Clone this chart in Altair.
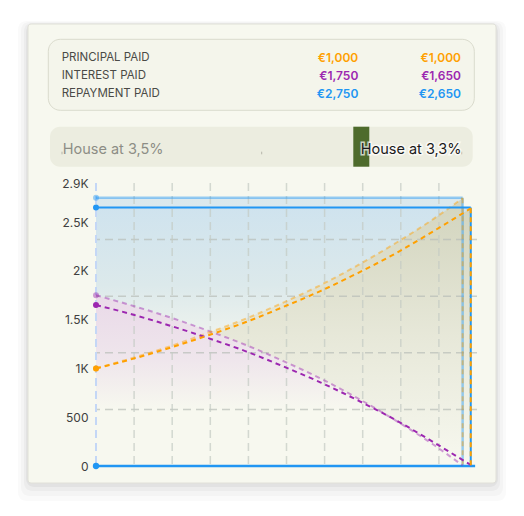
import altair as alt
import pandas as pd

# ---------------- data ----------------
table_labels = ["PRINCIPAL PAID", "INTEREST PAID", "REPAYMENT PAID"]
table_values_a = ["€1,000", "€1,750", "€2,750"]
table_values_b = ["€1,000", "€1,650", "€2,650"]
scenario_names = ["House at 3,5%", "House at 3,3%"]

years = [0, 3, 6, 9, 12, 15, 18, 21, 24, 27]
end_a = 29.35
end_b = 30.0
repayment_a = 2750
repayment_b = 2650
principal_a = [1000, 1110, 1230, 1365, 1510, 1675, 1855, 2060, 2285, 2530, 2745]
interest_a = [1750, 1640, 1520, 1385, 1240, 1075, 895, 690, 465, 220, 5]
principal_b = [1000, 1100, 1215, 1340, 1475, 1630, 1795, 1980, 2180, 2405, 2640]
interest_b = [1650, 1550, 1435, 1310, 1175, 1020, 855, 670, 470, 245, 10]

y_tick_values = [0, 500, 1000, 1500, 2000, 2500, 2900]
y_grid_values = [580, 1160, 1740, 2320]
x_grid_values = [3.05, 6.1, 9.15, 12.2, 15.25, 18.3, 21.35, 24.4, 27.45]
x_max = 30.5
y_max = 2900
zero_line_end = 30.35

BLUE = "#2196f3"
PURPLE = "#9c27b0"
ORANGE = "#ffa000"
BG = "#f7f8ef"
FONT = "Inter"

# ---------------- tables ----------------
rows = []
for scen, end, rep, pr, it in [("A", end_a, repayment_a, principal_a, interest_a),
                               ("B", end_b, repayment_b, principal_b, interest_b)]:
    for t, p, i in zip(years + [end], pr, it):
        rows.append(dict(scenario=scen, t=t, principal=p, interest=i, repayment=rep))
df = pd.DataFrame(rows)
ends = df.groupby("scenario").tail(1).reset_index(drop=True)
starts = df[df["t"] == 0].reset_index(drop=True)

table_df = pd.DataFrame({"row": [0, 1, 2], "label": table_labels, "a": table_values_a,
                         "b": table_values_b, "color": [ORANGE, PURPLE, BLUE]})
slider_df = pd.DataFrame({"idx": [0, 1], "name": scenario_names})

xscale = alt.Scale(domain=[0, x_max], nice=False, zero=False)
yscale = alt.Scale(domain=[0, y_max], nice=False)
yaxis = alt.Axis(values=y_tick_values, title=None, domain=False, ticks=False, grid=False, zindex=2,
                 labelExpr="datum.value >= 1000 ? format(datum.value / 1000, '.2~f') + 'K' : datum.label",
                 labelFont=FONT, labelFontSize=12, labelColor="#404040", labelPadding=8)


def X(f):
    return alt.X(f, type="quantitative", scale=xscale, axis=None)


def Y(f):
    return alt.Y(f, type="quantitative", scale=yscale, axis=yaxis)


def grad(stops):
    return alt.Gradient(gradient="linear", x1=1, x2=1, y1=0, y2=1,
                        stops=[alt.GradientStop(color=c, offset=o) for o, c in stops])


one = alt.Chart(pd.DataFrame({"k": [0]}))


def box(x1, x2, y1, y2, **kw):
    return one.mark_rect(**kw).encode(x=alt.value(x1), x2=alt.value(x2), y=alt.value(y1), y2=alt.value(y2))


layers = []
# card shadow + card
for px, pt, pb, op in [(10, 3, 18, 0.02), (7, 2, 13, 0.025), (4, 1, 8, 0.03), (2, 0, 4, 0.04)]:
    layers.append(box(-68 - px, 400 + px, -159 - pt, 300 + pb, color="#000000", opacity=op, cornerRadius=8))
layers.append(box(-68, 400, -159, 300, color=BG, stroke="#e0e0d8", strokeWidth=1, cornerRadius=3))

# summary table
layers.append(box(-47.7, 378.3, -143.7, -72.7, color="#f4f5eb", stroke="#dadbcd", strokeWidth=1, cornerRadius=12))
row_y = [-124.8, -106.8, -88.6]
tbase = alt.Chart(table_df)
for i, yy in enumerate(row_y):
    tb = tbase.transform_filter(alt.datum.row == i)
    layers.append(tb.mark_text(align="left", baseline="middle", font=FONT, fontSize=11.5, color="#4a4a46")
                  .encode(x=alt.value(-34.3), y=alt.value(yy), text="label:N"))
    layers.append(tb.mark_text(align="right", baseline="middle", font=FONT, fontSize=12, fontWeight=600)
                  .encode(x=alt.value(262.3), y=alt.value(yy), text="a:N", color=alt.Color("color:N", scale=None)))
    layers.append(tb.mark_text(align="right", baseline="middle", font=FONT, fontSize=12, fontWeight=600)
                  .encode(x=alt.value(365), y=alt.value(yy), text="b:N", color=alt.Color("color:N", scale=None)))

# scenario slider
layers.append(box(-46, 376.7, -56.3, -16.3, color="#ecede0", cornerRadius=10))
for tx in [-34, 165.7, 365.7]:
    layers.append(one.mark_rule(color="#b5b5aa", strokeWidth=1)
                  .encode(x=alt.value(tx), y=alt.value(-31.3), y2=alt.value(-28.7)))
layers.append(box(257.3, 273.3, -56.3, -16.3, color="#4e6b2c"))
sbase = alt.Chart(slider_df)
layers.append(sbase.transform_filter(alt.datum.idx == 0)
              .mark_text(align="left", baseline="alphabetic", font=FONT, fontSize=14.5, color="#8d8d86")
              .encode(x=alt.value(-33.3), y=alt.value(-29.2), text="name:N"))
layers.append(sbase.transform_filter(alt.datum.idx == 1)
              .mark_text(align="left", baseline="alphabetic", font=FONT, fontSize=14.5, color="#ffffff",
                         stroke="#ffffff", strokeWidth=3, opacity=0.7)
              .encode(x=alt.value(264.7), y=alt.value(-29.2), text="name:N"))
layers.append(sbase.transform_filter(alt.datum.idx == 1)
              .mark_text(align="left", baseline="alphabetic", font=FONT, fontSize=14.5, color="#1b1b1b")
              .encode(x=alt.value(264.7), y=alt.value(-29.2), text="name:N"))

base = alt.Chart(df)
A = base.transform_filter(alt.datum.scenario == "A")
B = base.transform_filter(alt.datum.scenario == "B")

# gradient areas (opaque, fading into the card colour)
blue_a = grad([(0, "#dae8ed"), (0.3, "#e2ecec"), (0.6, BG)])
blue_b = grad([(0, "#cfe3ee"), (0.3, "#dce9eb"), (0.6, BG)])
olive = grad([(0, "#d3d5bf"), (0.5, "#e7e8d9"), (1, BG)])
purple = grad([(0, "#eadbe9"), (0.35, "#efe6ec"), (0.65, BG)])

layers.append(A.mark_area(interpolate="monotone", opacity=1, color=blue_a).encode(x=X("t"), y=Y("repayment")))
layers.append(B.mark_area(interpolate="monotone", opacity=1, color=blue_b).encode(x=X("t"), y=Y("repayment")))
for sub in (A, B):
    layers.append(sub.mark_area(interpolate="monotone", opacity=1, color=olive).encode(x=X("t"), y=Y("principal")))
for sub in (A, B):
    layers.append(sub.mark_area(interpolate="monotone", opacity=1, color=purple).encode(x=X("t"), y=Y("interest")))

# grid (on top of fills)
layers.append(alt.Chart(pd.DataFrame({"g": y_grid_values}))
              .mark_rule(color="#b8beb8", strokeDash=[8, 5], strokeWidth=1.5, opacity=0.7).encode(y=Y("g")))
layers.append(alt.Chart(pd.DataFrame({"g": x_grid_values}))
              .mark_rule(color="#c3cac3", strokeDash=[8, 5], strokeWidth=1.5, opacity=0.7).encode(x=X("g")))
layers.append(alt.Chart(pd.DataFrame({"g": [0]}))
              .mark_rule(color="#c4d7f6", strokeDash=[8, 5], strokeWidth=2).encode(x=X("g")))

# zero line
zero_df = pd.DataFrame({"t0": [0], "t1": [zero_line_end], "v": [0]})
layers.append(alt.Chart(zero_df).mark_rule(color=BLUE, strokeWidth=2.5).encode(x=X("t0"), x2="t1", y=Y("v")))

# lines
for sub, scen, op, w in [(A, "A", 0.45, 2.5), (B, "B", 1.0, 2)]:
    e = alt.Chart(ends).transform_filter(alt.datum.scenario == scen)
    s = alt.Chart(starts).transform_filter(alt.datum.scenario == scen)
    layers.append(sub.mark_line(interpolate="monotone", color=BLUE, strokeWidth=w, opacity=op)
                  .encode(x=X("t"), y=Y("repayment")))
    layers.append(e.mark_rule(color=BLUE, strokeWidth=w, opacity=op)
                  .encode(x=X("t"), y=Y("repayment"), y2=alt.datum(0)))
    layers.append(sub.mark_line(interpolate="monotone", color=PURPLE, strokeWidth=2, strokeDash=[5, 4], opacity=op)
                  .encode(x=X("t"), y=Y("interest")))
    layers.append(sub.mark_line(interpolate="monotone", color=ORANGE, strokeWidth=2, strokeDash=[5, 4], opacity=op)
                  .encode(x=X("t"), y=Y("principal")))
    layers.append(e.mark_rule(color=ORANGE, strokeWidth=2, strokeDash=[5, 4], opacity=op)
                  .encode(x=X("t"), y=Y("principal"), y2=alt.datum(0)))
    for f, c in [("repayment", BLUE), ("interest", PURPLE), ("principal", ORANGE)]:
        layers.append(s.mark_circle(size=36, color=c, opacity=op).encode(x=X("t"), y=Y(f)))

layers.append(alt.Chart(zero_df).mark_circle(size=40, color=BLUE, opacity=1).encode(x=X("t0"), y=Y("v")))

chart = alt.layer(*layers).properties(
    width=381, height=283,
    autosize=alt.AutoSizeParams(type="none"),
    padding={"left": 96, "top": 183, "right": 47, "bottom": 50},
    background="#ffffff",
).configure_view(strokeWidth=0)

chart.save("out.html", embed_options={"renderer": "svg", "actions": False})
